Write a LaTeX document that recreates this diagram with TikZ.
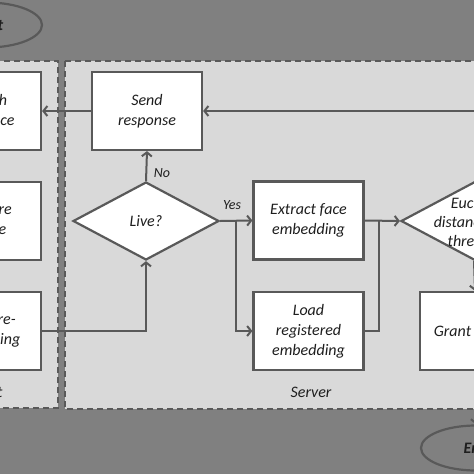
\documentclass[tikz,border=0pt]{standalone}
\usepackage{fontspec}
\setmainfont{Carlito}
\usetikzlibrary{shapes.geometric,arrows.meta}
\definecolor{bgdark}{HTML}{808080}
\definecolor{panel}{HTML}{D9D9D9}
\definecolor{edge}{HTML}{595959}
\definecolor{ink}{HTML}{1E1E1E}
\begin{document}
\begin{tikzpicture}[x=1pt,y=-1pt,
  box/.style={draw=edge,fill=white,line width=2.2pt,minimum width=110pt,minimum height=78pt,inner sep=2pt,align=center,font=\fontsize{16}{20}\selectfont\itshape,text=ink},
  decision/.style={diamond,draw=edge,fill=white,line width=2.2pt,minimum width=146pt,minimum height=78pt,inner sep=0pt,align=center,font=\fontsize{16}{19}\selectfont\itshape,text=ink},
  term/.style={ellipse,draw=edge,line width=2.2pt,minimum width=110pt,minimum height=45pt,inner sep=0pt,font=\fontsize{16}{20}\selectfont\bfseries\itshape,text=ink},
  panelbox/.style={fill=panel,draw=edge,line width=1.8pt,dash pattern=on 6pt off 4pt},
  link/.style={draw=edge,line width=2pt},
  conn/.style={link,-{Straight Barb[length=4pt,width=10pt]}},
  lbl/.style={font=\fontsize{14}{16}\selectfont\itshape,text=ink,inner sep=0pt},
  plabel/.style={font=\fontsize{16}{20}\selectfont\itshape,text=ink,inner sep=0pt},
  freetext/.style={align=center,font=\fontsize{16}{19}\selectfont\itshape,text=ink,inner sep=0pt}]
\useasboundingbox (0,0) rectangle (474,474);
\clip (0,0) rectangle (474,474);
\fill[bgdark] (0,0) rectangle (474,474);
\draw[panelbox] (-20,61) rectangle (58,408);
\draw[panelbox] (65,61) rectangle (490,409);

\node[term] (start) at (-13,25) {Start};
\node[term] (end) at (476,448) {End};

\node[box] (c1) at (-14,111) {Switch\\interface};
\node[box] (c2) at (-14,221) {Capture\\image};
\node[box] (c3) at (-14,331) {Face pre-\\processing};
\node[plabel] (clientlbl) at (-16,392) {Client};

\node[box] (send) at (147,111) {Send\\response};
\node[decision] (live) at (146,221) {Live?};
\node[box] (extract) at (308.5,220.5) {Extract face\\embedding};
\node[box] (load) at (308.5,331) {Load\\registered\\embedding};
\node[decision] (euc) at (474,221) {};
\node[freetext] (euctext) at (482,222) {Euclidean\\distance below\\threshold?};
\node[box] (grant) at (475,331) {Grant access};
\node[plabel] (serverlbl) at (311,392) {Server};

\coordinate (split) at (236,221);
\coordinate (join) at (379,221);

\draw[conn] (send.west) -- (c1.east);
\draw[conn] (live.north) -- (send.south);
\node[lbl] (nolbl) at (162,173) {No};
\draw[conn] (c3.east) -| (live.south);
\draw[conn] (live.east) -- (extract.west);
\node[lbl] (yeslbl) at (232,205) {Yes};
\draw[conn] (split) |- (load.west);
\draw[link] (load.east) -| (join);
\draw[conn] (extract.east) -- (euc.west);
\draw[conn] (euc.south) -- (grant.north);
\draw[conn] (grant.south) -- (end.north);
\draw[conn] (euc.east) -- ++(15,0) |- (send.east);
\end{tikzpicture}
\end{document}
